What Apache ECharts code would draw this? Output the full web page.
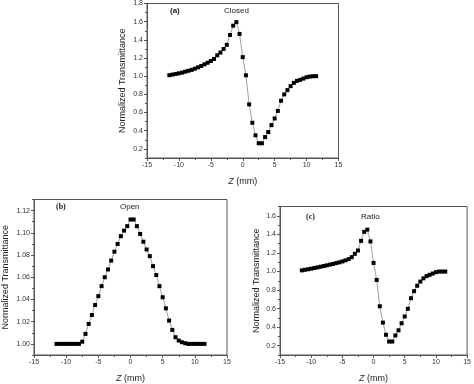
<!DOCTYPE html>
<html><head><meta charset="utf-8">
<script src="https://cdn.jsdelivr.net/npm/echarts@6/dist/echarts.min.js"></script>
<style>html,body{margin:0;padding:0;background:#fff}#c{width:474px;height:384px}</style>
</head><body><div id="c"></div>
<script>
var zPositions = [-11.5,-11,-10.5,-10,-9.5,-9,-8.5,-8,-7.5,-7,-6.5,-6,-5.5,-5,-4.5,-4,-3.5,-3,-2.5,-2,-1.5,-1,-0.5,0,0.5,1,1.5,2,2.5,3,3.5,4,4.5,5,5.5,6,6.5,7,7.5,8,8.5,9,9.5,10,10.5,11,11.5];
var closedT = [1.011,1.018,1.025,1.032,1.04,1.05,1.06,1.07,1.083,1.098,1.113,1.131,1.148,1.167,1.19,1.23,1.26,1.30,1.345,1.454,1.556,1.595,1.465,1.21,1.01,0.69,0.488,0.35,0.262,0.262,0.33,0.385,0.462,0.535,0.618,0.73,0.80,0.847,0.891,0.927,0.949,0.96,0.974,0.989,0.996,1.0,1.0];
var openT = [1.0,1.0,1.0,1.0,1.0,1.0,1.0,1.0,1.002,1.009,1.018,1.026,1.035,1.043,1.052,1.06,1.067,1.075,1.083,1.09,1.097,1.102,1.106,1.112,1.112,1.106,1.099,1.092,1.085,1.079,1.07,1.062,1.052,1.042,1.032,1.021,1.0126,1.006,1.003,1.0015,1.0006,1.0,1.0,1.0,1.0,1.0,1.0];
var ratioT = [1.012,1.018,1.024,1.03,1.037,1.044,1.051,1.058,1.066,1.074,1.081,1.09,1.098,1.108,1.12,1.133,1.154,1.19,1.226,1.33,1.427,1.451,1.324,1.092,0.909,0.625,0.449,0.318,0.245,0.245,0.311,0.366,0.442,0.515,0.598,0.712,0.788,0.846,0.891,0.926,0.95,0.964,0.978,0.992,0.999,0.999,0.999];
var xTicks = [-15,-10,-5,0,5,10,15];
var yTicksA = [0.2,0.4,0.6,0.8,1.0,1.2,1.4,1.6,1.8];
var yTicksB = [1.00,1.02,1.04,1.06,1.08,1.10,1.12];
var yTicksC = [0.2,0.4,0.6,0.8,1.0,1.2,1.4,1.6];
var yMinorA = [0.1,0.3,0.5,0.7,0.9,1.1,1.3,1.5,1.7];
var yMinorB = [0.99,1.01,1.03,1.05,1.07,1.09,1.11,1.13];
var yMinorC = [0.1,0.3,0.5,0.7,0.9,1.1,1.3,1.5,1.7];

function pairs(v){ return zPositions.map(function(z,i){ return [z, v[i]]; }); }
var axisCol = '#555';
var labCol = '#333';
var font = 'Liberation Sans';

function xAx(g){
  return {type:'value', gridIndex:g, min:-15, max:15, interval:5,
    name:'{i|Z} (mm)', nameLocation:'middle', nameGap:19,
    nameTextStyle:{fontFamily:font, fontSize:9, color:'#222', rich:{i:{fontStyle:'italic', fontFamily:font, fontSize:9, color:'#222'}}},
    axisLine:{show:true, onZero:false, lineStyle:{color:axisCol, width:1}},
    axisTick:{show:true, inside:false, length:3, lineStyle:{color:axisCol}},
    minorTick:{show:true, splitNumber:2, length:2, lineStyle:{color:axisCol}},
    splitLine:{show:false},
    axisLabel:{fontFamily:font, fontSize:7, color:labCol, margin:4}};
}
function yAx(g, mn, mx, ticks, gap, fmt){
  return {type:'value', gridIndex:g, min:mn, max:mx,
    name:'Normalized Transmittance', nameLocation:'middle', nameGap:gap,
    nameTextStyle:{fontFamily:font, fontSize:9, color:'#222'},
    axisLine:{show:true, onZero:false, lineStyle:{color:axisCol, width:1}},
    axisTick:{show:true, inside:false, length:3, customValues:ticks, lineStyle:{color:axisCol}},
    splitLine:{show:false},
    axisLabel:{fontFamily:font, fontSize:7, color:labCol, margin:4, customValues:ticks,
      formatter:function(v){ return v.toFixed(fmt); }}};
}
function yMinor(g, mn, mx, ticks){
  return {type:'value', gridIndex:g, min:mn, max:mx, position:'left',
    axisLine:{show:false, onZero:false}, splitLine:{show:false},
    axisTick:{show:true, inside:false, length:2, customValues:ticks, lineStyle:{color:axisCol}},
    axisLabel:{show:false, customValues:ticks}};
}
function ser(xi, yi, data){
  return {type:'line', xAxisIndex:xi, yAxisIndex:yi, data:pairs(data),
    symbol:'rect', symbolSize:4, itemStyle:{color:'#000'},
    lineStyle:{color:'#888', width:0.8}, animation:false};
}
var gridStyle = {show:true, borderColor:axisCol, borderWidth:1, backgroundColor:'transparent'};

var chart = echarts.init(document.getElementById('c'), null, {renderer:'canvas'});
chart.setOption({
  animation:false,
  grid:[
    Object.assign({left:147, top:3, width:191.5, height:155}, gridStyle),
    Object.assign({left:28.5, top:199.5, width:198.5, height:160.5}, gridStyle),
    Object.assign({left:280, top:206.5, width:190, height:154.5}, gridStyle)
  ],
  xAxis:[xAx(0), xAx(1), xAx(2)],
  yAxis:[
    yAx(0, 0.1, 1.8, yTicksA, 20, 1),
    yAx(1, 0.99, 1.13, yTicksB, 24, 2),
    yAx(2, 0.1, 1.7, yTicksC, 19, 1),
    yMinor(0, 0.1, 1.8, yMinorA),
    yMinor(1, 0.99, 1.13, yMinorB),
    yMinor(2, 0.1, 1.7, yMinorC)
  ],
  series:[ser(0,0,closedT), ser(1,1,openT), ser(2,2,ratioT)],
  graphic:[
    {type:'text', left:170, top:7, style:{text:'(a)', font:'bold 8px "Liberation Sans"', fill:'#222'}},
    {type:'text', left:224, top:7, style:{text:'Closed', font:'8px "Liberation Sans"', fill:'#222'}},
    {type:'text', left:56, top:203, style:{text:'(b)', font:'bold 8px "Liberation Serif"', fill:'#222'}},
    {type:'text', left:120, top:203, style:{text:'Open', font:'8px "Liberation Sans"', fill:'#222'}},
    {type:'text', left:306, top:213, style:{text:'(c)', font:'bold 8px "Liberation Serif"', fill:'#222'}},
    {type:'text', left:361, top:213, style:{text:'Ratio', font:'8px "Liberation Sans"', fill:'#222'}}
  ]
});
</script></body></html>
